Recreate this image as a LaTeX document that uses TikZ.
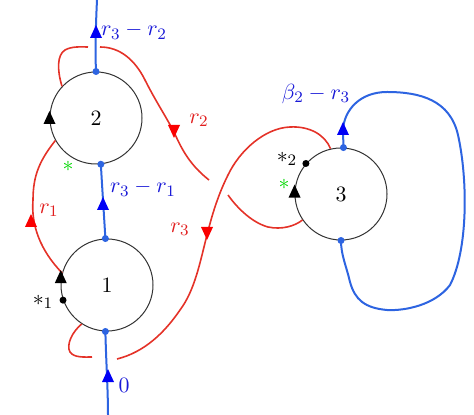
\documentclass[tikz,border=0pt]{standalone}
\usetikzlibrary{calc}
\definecolor{bline}{RGB}{45,100,225}
\definecolor{barrow}{RGB}{0,0,245}
\definecolor{btext}{RGB}{25,25,215}
\definecolor{rline}{RGB}{228,50,40}
\definecolor{rarrow}{RGB}{250,0,0}
\definecolor{rtext}{RGB}{225,30,30}
\definecolor{gstar}{RGB}{0,215,0}
\begin{document}
\begin{tikzpicture}[x=0.5pt,y=-0.5pt,
  disk/.style={circle,draw=black!80,line width=0.5pt,minimum size=46pt,inner sep=0pt,font=\fontsize{11}{13}\selectfont},
  bluepath/.style={draw=bline,line width=1pt},
  redpath/.style={draw=rline,line width=0.8pt},
  lab/.style={inner sep=0pt,font=\fontsize{11}{13}\selectfont},
  tri/.pic={\path[pic actions] (0,-7) -- (-6,6) -- (6,6) -- cycle;},
  jdot/.style={circle,fill=bline,inner sep=0pt,minimum size=3.5pt},
  kdot/.style={circle,fill=black,inner sep=0pt,minimum size=3.5pt}]
\useasboundingbox (0,0) rectangle (474,415);
% circles
\node[disk] (c2) at (96,118) {$2$};
\node[disk] (c1) at (107,285) {$1$};
\node[disk] (c3) at (341,194) {$3$};
% free ends
\coordinate (top) at (97,0);
\coordinate (bot) at (108,415);
\coordinate (r2a) at (88,47);
\coordinate (r2b) at (100,47);
\coordinate (r2c) at (209,180);
\coordinate (r2d) at (228,195);
\coordinate (r3a) at (92,357);
\coordinate (r3b) at (117,359);
% blue strands
\draw[bluepath] (top) .. controls (96,20) and (95,50) .. (c2.north);
\draw[bluepath] (c1.92) .. controls (104,215) and (102,185) .. (c2.-84);
\draw[bluepath] (c1.-92) .. controls (106,360) and (108,390) .. (bot);
\draw[bluepath] (c3.87) -- (343,130) .. controls (344,110) and (360,92) .. (387,92)
  .. controls (420,92) and (450,100) .. (458,135)
  .. controls (468,180) and (468,250) .. (450,285)
  .. controls (435,305) and (405,311) .. (387,310)
  .. controls (365,308) and (355,300) .. (350,282)
  .. controls (346,265) and (341,255) .. (c3.-90);
% red strands
\draw[redpath] (c2.209) .. controls (40,160) and (33,175) .. (33,200)
  .. controls (31,225) and (40,250) .. (c1.165);
\draw[redpath] (c2.137) .. controls (57,70) and (57,55) .. (65,50)
  .. controls (72,46) and (82,47) .. (r2a);
\draw[redpath] (r2b) .. controls (120,47) and (135,60) .. (145,80)
  .. controls (155,100) and (165,115) .. (174,132)
  .. controls (182,150) and (190,165) .. (r2c);
\draw[redpath] (r2d) .. controls (235,205) and (250,222) .. (268,227)
  .. controls (282,230) and (295,226) .. (c3.214);
\draw[redpath] (c3.103) .. controls (325,135) and (310,126) .. (290,127)
  .. controls (265,128) and (240,150) .. (228,175)
  .. controls (218,195) and (212,215) .. (207,235)
  .. controls (200,262) and (195,290) .. (180,310)
  .. controls (165,332) and (145,352) .. (r3b);
\draw[redpath] (c1.237) .. controls (72,332) and (66,345) .. (70,352)
  .. controls (74,358) and (85,357) .. (r3a);
% junction dots
\node[jdot] at (c2.north) {};
\node[jdot] at (c2.-84) {};
\node[jdot] at (c1.92) {};
\node[jdot] at (c1.-92) {};
\node[jdot] at (c3.87) {};
\node[jdot] at (c3.-90) {};
\node[kdot] (s1) at (c1.199) {};
\node[kdot] (s2) at (c3.139) {};
% arrowheads
\pic[fill=barrow] at (96,32) {tri};
\pic[fill=barrow] at (103,204) {tri};
\pic[fill=barrow] at (108,376) {tri};
\pic[fill=barrow] at (343,129) {tri};
\pic[fill=rarrow] at (31,221) {tri};
\pic[fill=rarrow,rotate=180] at (174,131) {tri};
\pic[fill=rarrow,rotate=180] at (207,233) {tri};
\pic[fill=black] at (c2.180) {tri};
\pic[fill=black] at ($(c1.174)+(0,-3)$) {tri};
\pic[fill=black] at (c3.177) {tri};
% labels
\node[lab,text=btext] (l1) at (134,31) {$r_3-r_2$};
\node[lab,text=btext] (l2) at (143,188) {$r_3-r_1$};
\node[lab,text=btext] (l3) at (124,385) {$0$};
\node[lab,text=btext] (l4) at (316,94) {$\beta_2-r_3$};
\node[lab,text=rtext] (l5) at (199,120) {$r_2$};
\node[lab,text=rtext] (l6) at (49,210) {$r_1$};
\node[lab,text=rtext] (l7) at (180,229) {$r_3$};
\node[lab] (l8) at (43,302) {$*_1$};
\node[lab] (l9) at (287,159) {$*_2$};
\node[lab,text=gstar] (g1) at (68,166) {$*$};
\node[lab,text=gstar] (g2) at (284,184) {$*$};
\end{tikzpicture}
\end{document}
